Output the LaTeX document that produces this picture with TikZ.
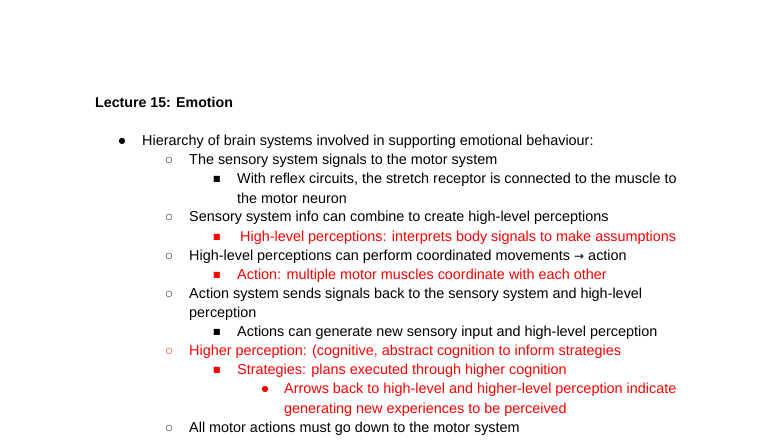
\documentclass[tikz,border=0pt]{standalone}
\usepackage{fontspec}
\setmainfont{Liberation Sans}
\newfontfamily\symf{DejaVu Sans}
\definecolor{rd}{HTML}{FF0000}
\begin{document}
\begin{tikzpicture}[x=1pt,y=-1pt,
  txt/.style={anchor=west,inner sep=0pt,font=\fontsize{14.4}{16}\selectfont},
  bl/.style={anchor=center,inner sep=0pt,font=\symf\fontsize{8}{9}\selectfont}]
\useasboundingbox[fill=white] (0,0) rectangle (784,441);
\begin{scope}[shift={(0,1.5)}]
\node[txt,font=\bfseries\fontsize{14.2}{16}\selectfont] (t) at (95,101) {Lecture 15: Emotion};
\node[bl] (b1) at (122,140) {●};
\node[txt] (l1) at (142,140) {Hierarchy of brain systems involved in supporting emotional behaviour:};
\node[bl] (b2) at (169,159) {○};
\node[txt] (l2) at (189,159) {The sensory system signals to the motor system};
\node[bl] (b3) at (217,178) {■};
\node[txt] (l3) at (237,178) {With reflex circuits, the stretch receptor is connected to the muscle to};
\node[txt] (l3b) at (237,197) {the motor neuron};
\node[bl] (b4) at (169,216) {○};
\node[txt] (l4) at (189,216) {Sensory system info can combine to create high-level perceptions};
\node[bl,rd] (b5) at (217,236) {■};
\node[txt,rd] (l5) at (240,236) {High-level perceptions: interprets body signals to make assumptions};
\node[bl] (b6) at (169,255) {○};
\node[txt] (l6) at (189,255) {High-level perceptions can perform coordinated movements {\symf\fontsize{12}{13}\selectfont →} action};
\node[bl,rd] (b7) at (217,274) {■};
\node[txt,rd] (l7) at (237,274) {Action: multiple motor muscles coordinate with each other};
\node[bl] (b8) at (169,293) {○};
\node[txt] (l8) at (189,293) {Action system sends signals back to the sensory system and high-level};
\node[txt] (l8b) at (189,312) {perception};
\node[bl] (b9) at (217,331) {■};
\node[txt] (l9) at (237,331) {Actions can generate new sensory input and high-level perception};
\node[bl,rd] (b10) at (169,350) {○};
\node[txt,rd] (l10) at (189,350) {Higher perception: (cognitive, abstract cognition to inform strategies};
\node[bl,rd] (b11) at (217,369) {■};
\node[txt,rd] (l11) at (237,369) {Strategies: plans executed through higher cognition};
\node[bl,rd] (b12) at (265,388) {●};
\node[txt,rd] (l12) at (284,388) {Arrows back to high-level and higher-level perception indicate};
\node[txt,rd] (l12b) at (284,408) {generating new experiences to be perceived};
\node[bl] (b13) at (169,427) {○};
\node[txt] (l13) at (189,427) {All motor actions must go down to the motor system};
\end{scope}
\end{tikzpicture}
\end{document}
